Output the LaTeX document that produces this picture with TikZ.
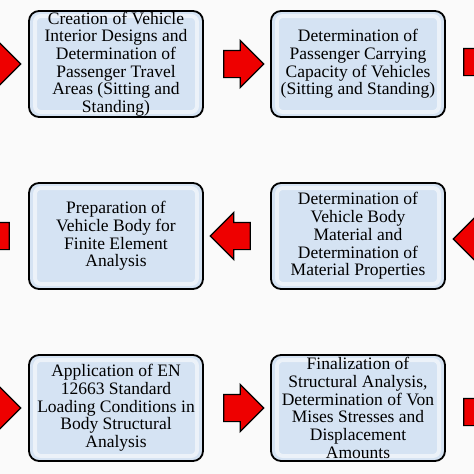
\documentclass[tikz,border=0pt]{standalone}
\usepackage{fontspec}
\setmainfont{Liberation Serif}
\usetikzlibrary{shapes.arrows,calc}

\definecolor{boxblue}{RGB}{213,227,243}
\definecolor{bggray}{RGB}{250,250,250}
\definecolor{arrowred}{RGB}{238,0,0}

\tikzset{
    stepbox/.style = {draw = black, line width = 1.8pt, rounded corners = 10pt, fill = boxblue,
        path picture = {\draw[white, opacity = 0.55, line width = 4pt, rounded corners = 6pt]
            ([shift = {(6pt,-5pt)}]path picture bounding box.north west) rectangle
            ([shift = {(-6pt,5pt)}]path picture bounding box.south east);},
        minimum width = 174pt, minimum height = 106pt, inner sep = 0pt,
        align = center, font = \fontsize{17.5}{17.7}\selectfont},
    blockarrow/.style = {single arrow, draw = black, line width = 1.2pt, fill = arrowred,
        minimum height = 40pt, single arrow head extend = 10pt,
        inner xsep = 0pt, inner ysep = 13pt},
    backarrow/.style = {blockarrow, shape border rotate = 180}
}

\begin{document}
\begin{tikzpicture}[x = 1pt, y = -1pt]
            \fill[bggray] (0,0) rectangle (474,474);
            \useasboundingbox (0,0) rectangle (474,474);
            \clip (0,0) rectangle (474,474);

            % first row
            \node[stepbox] (interior) at (116,64) {Creation of Vehicle\\Interior Designs and\\Determination of\\Passenger Travel\\Areas (Sitting and\\Standing)};
            \node[stepbox] (capacity) at (358,64) {Determination of\\Passenger Carrying\\Capacity of Vehicles\\(Sitting and Standing)};

            % second row
            \node[stepbox] (preparation) at (116,236) {Preparation of\\Vehicle Body for\\Finite Element\\Analysis};
            \node[stepbox] (material) at (358,236) {Determination of\\Vehicle Body\\Material and\\Determination of\\Material Properties};

            % third row
            \node[stepbox] (loading) at (116,408) {Application of EN\\12663 Standard\\Loading Conditions in\\Body Structural\\Analysis};
            \node[stepbox] (results) at (358,408) {Finalization of\\Structural Analysis,\\Determination of Von\\Mises Stresses and\\Displacement\\Amounts};

            % arrows between the boxes
            \node[blockarrow] (a12) at ($(interior.east)!0.5!(capacity.west)$) {};
            \node[backarrow] (a43) at ($(material.west)!0.5!(preparation.east)$) {};
            \node[blockarrow] (a56) at ($(loading.east)!0.5!(results.west)$) {};

            % arrows cut by the edges
            \node[blockarrow] (inleft) at (-6,64) {};
            \node[blockarrow] (outright) at (477,62) {};
            \node[backarrow] (midleft) at (-4,236) {};
            \node[backarrow] (midright) at (480,239) {};
            \node[blockarrow] (lowleft) at (-6,408) {};
            \node[blockarrow] (lowright) at (477,412) {};
\end{tikzpicture}
\end{document}
